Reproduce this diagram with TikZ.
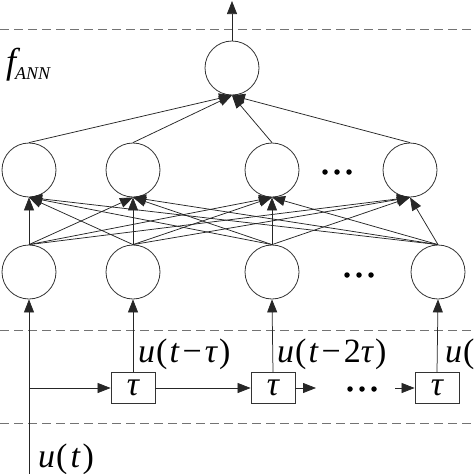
\documentclass[tikz,border=0pt]{standalone}
\usepackage{fontspec}
\setmainfont{Liberation Serif}
\usetikzlibrary{arrows.meta}
\tikzset{
  neuron/.style={circle,draw=black!80,line width=0.8pt,minimum size=54pt,inner sep=0pt},
  delaybox/.style={rectangle,draw=black!80,line width=0.8pt,minimum width=44pt,minimum height=31pt,inner sep=0pt,font=\fontsize{34}{36}\selectfont\itshape},
  conn/.style={draw=black!85,line width=0.75pt,-{Triangle[length=13pt,width=10pt]}},
  sep/.style={draw=black!55,line width=0.9pt,dash pattern=on 9pt off 5pt},
  lbl/.style={anchor=base west,inner sep=0pt,font=\fontsize{34}{36}\selectfont},
  dotn/.style={circle,fill=black,inner sep=0pt,minimum size=5.5pt}
}
\newcommand{\mv}[1]{\textit{#1}}
\begin{document}
\begin{tikzpicture}[x=1pt,y=-1pt]
\useasboundingbox (0,0) rectangle (474,474);
% separators
\draw[sep] (0,29) -- (474,29);
\draw[sep] (0,330) -- (474,330);
\draw[sep] (0,423) -- (474,423);
% output
\node[neuron] (out) at (232,68) {};
\coordinate (top) at (232,1);
\draw[conn] (out.north) -- (top);
\node[anchor=base west,inner sep=0pt,font=\fontsize{36}{38}\selectfont\itshape] (fann) at (6,73) {f\kern-1pt\raisebox{-6pt}{\fontsize{18}{19}\selectfont ANN}};
% hidden layer
\node[neuron] (h1) at (29,170) {};
\node[neuron] (h2) at (133,170) {};
\node[neuron] (h3) at (272,170) {};
\node[neuron] (h4) at (410,170) {};
\node[dotn] (hd1) at (325,172) {};
\node[dotn] (hd2) at (337,172) {};
\node[dotn] (hd3) at (349,172) {};
% input layer
\node[neuron] (i1) at (29,272) {};
\node[neuron] (i2) at (133,272) {};
\node[neuron] (i3) at (272,272) {};
\node[neuron] (i4) at (438,272) {};
\node[dotn] (id1) at (347,275) {};
\node[dotn] (id2) at (359,275) {};
\node[dotn] (id3) at (371,275) {};
% hidden -> output
\foreach \h in {h1,h2,h3,h4} \draw[conn] (\h.north) -- (out.south);
% input -> hidden
\foreach \i in {i1,i2,i3,i4}
  \foreach \h in {h1,h2,h3,h4}
    \draw[conn] (\i.north) -- (\h.south);
% delay line
\node[delaybox] (t1) at (133,388) {τ};
\node[delaybox] (t2) at (273,388) {τ};
\node[delaybox] (t3) at (437,388) {τ};
\coordinate (bot) at (29,474);
\coordinate (b0) at (29,388);
\coordinate (a2) at (316,388);
\coordinate (a3) at (395,388);
\node[dotn] (bd1) at (350,389) {};
\node[dotn] (bd2) at (362,389) {};
\node[dotn] (bd3) at (374,389) {};
\draw[conn] (bot) -- (i1.south);
\draw[conn] (b0) -- (t1.west);
\draw[conn] (t1.east) -- (t2.west);
\draw[conn] (t2.east) -- (a2);
\draw[conn] (a3) -- (t3.west);
\draw[conn] (t1.north) -- (i2.south);
\draw[conn] (t2.north) -- (i3.south);
\draw[conn] (t3.north) -- (i4.south);
% labels
\node[lbl] (l1) at (138,362) {\mv{u}\kern1pt(\kern2pt\mv{t}\kern3pt−\kern3pt\mv{τ}\kern1pt)};
\node[lbl] (l2) at (277,362) {\mv{u}\kern1pt(\kern2pt\mv{t}\kern3pt−\kern3pt2\mv{τ}\kern1pt)};
\node[lbl] (l3) at (445,362) {\mv{u}\kern1pt(};
\node[lbl] (l0) at (38,467) {\mv{u}\kern1pt(\kern3pt\mv{t}\kern2pt)};
\end{tikzpicture}
\end{document}
